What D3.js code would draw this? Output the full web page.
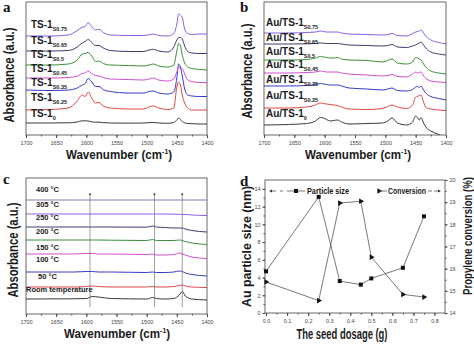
<!DOCTYPE html>
<html>
<head>
<meta charset="utf-8">
<script src="https://cdn.jsdelivr.net/npm/d3@7/dist/d3.min.js"></script>
<style>
  body { margin: 0; background: #fff; }
  svg { display: block; font-family: "Liberation Sans", Arial, sans-serif; }
  .tick text { font-size: 5.5px; fill: #444; }
  .title { font-weight: bold; fill: #1a1a1a; }
</style>
</head>
<body>
<svg id="chart" width="474" height="345"></svg>
<script>
// wavenumber grid (cm-1) used for panels a and b
const waveAB = [1700, 1660, 1630, 1615, 1607, 1602, 1597, 1591, 1585, 1579, 1572, 1560, 1530, 1505,
                1496, 1489, 1480, 1465, 1455, 1450, 1447, 1444, 1441, 1437, 1432, 1425, 1412, 1400];

// panel a: TS-1 samples, profile above own baseline (a.u.)
const seedsA = ['0', '0.25', '0.35', '0.45', '0.5', '0.65', '0.75'];
const offsetsA = [1.2, 2.5, 4.5, 5.7, 7.0, 8.4, 9.9];
const specA0    = [0, 0, 0.02, 0.1, 0.22, 0.22, 0.2, 0.12, 0.08, 0.08, 0.03, 0, -0.02, 0, 0.03, 0.05, 0, -0.03, 0.05, 0.3, 0.5, 0.35, 0.15, 0.02, -0.05, -0.07, -0.1, -0.1];
const specA025  = [0, 0.05, 0.2, 0.9, 1.5, 1.35, 1.8, 1.2, 0.7, 0.75, 0.4, 0.2, 0.1, 0.1, 0.3, 0.4, 0.2, 0.05, 0.2, 2.3, 2.8, 2.5, 1.5, 0.7, 0.2, 0, 0, 0];
const specA035  = [0, -0.05, 0, 0.2, 0.5, 0.65, 1.15, 0.8, 0.35, 0.35, 0.05, -0.15, -0.3, -0.3, -0.15, -0.1, -0.3, -0.4, -0.2, 1.2, 2.6, 2.3, 1.4, 0.1, -0.5, -0.6, -0.65, -0.65];
const specA045  = [0, 0, 0.05, 0.2, 0.45, 0.5, 0.7, 0.45, 0.25, 0.2, 0.05, -0.1, -0.15, -0.2, -0.1, 0, -0.2, -0.3, -0.1, 0.6, 1.1, 1.0, 0.95, 0.4, -0.2, -0.35, -0.45, -0.47];
const specA05   = [0, 0, 0.1, 0.5, 1.1, 1.15, 1.25, 0.9, 0.35, 0.4, 0.15, 0, -0.05, -0.1, 0, 0.1, -0.1, -0.2, 0, 1.4, 2.15, 1.9, 1.0, 0.2, -0.2, -0.35, -0.45, -0.5];
const specA065  = [0, 0, 0.05, 0.4, 0.8, 0.95, 1.15, 0.85, 0.55, 0.55, 0.3, 0.05, -0.05, -0.05, 0.1, 0.17, 0, -0.1, 0.4, 1.1, 1.35, 1.35, 1.2, 0.5, -0.05, -0.2, -0.25, -0.25];
const specA075  = [0, 0, 0.1, 0.55, 0.87, 0.95, 1.33, 0.95, 0.6, 0.67, 0.35, 0.1, 0.05, 0.05, 0.12, 0.2, 0.05, 0, 0.25, 1.2, 2.2, 2.1, 1.85, 0.7, 0.25, 0.15, 0.2, 0.2];

// panel b: Au/TS-1 samples
const offsetsB = [1.0, 2.7, 4.9, 6.2, 7.5, 9.1, 10.2];
const specB0    = [0, 0.05, 0.15, 0.4, 0.75, 0.7, 0.55, 0.4, 0.45, 0.5, 0.3, 0.1, 0.15, 0.2, 0.4, 0.7, 0.2, 0, 0.3, 0.9, 0.75, 0.5, 0.75, 0.2, -0.3, -0.6, -0.95, -1.3];
const specB025  = [0, 0, 0.1, 0.3, 0.5, 0.45, 0.4, 0.35, 0.3, 0.25, 0.1, -0.1, -0.15, -0.05, 0.15, 0.3, 0.1, -0.05, 0.3, 1.1, 1.15, 1.25, 1.3, 0.6, 0, -0.1, -0.2, -0.25];
const specB035  = [0, 0, 0.05, 0.15, 0.25, 0.2, 0.15, 0.1, 0.1, 0.1, 0, -0.2, -0.3, -0.4, -0.3, -0.2, -0.45, -0.5, -0.35, -0.1, -0.05, -0.15, 0, -0.4, -0.8, -1.05, -1.25, -1.4];
const specB045  = [0, 0, 0.05, 0.1, 0.2, 0.15, 0.1, 0.1, 0.1, 0.1, 0, -0.1, -0.2, -0.3, -0.25, -0.15, -0.35, -0.4, -0.1, 0.1, 0, 0.05, 0.1, -0.3, -0.6, -0.8, -0.9, -0.95];
const specB05   = [0, 0, 0.05, 0.2, 0.35, 0.3, 0.25, 0.2, 0.2, 0.25, 0.1, 0, -0.05, -0.2, -0.05, 0.1, -0.3, -0.4, -0.2, 0.25, 0.2, 0.1, 0, -0.4, -0.8, -1.1, -1.3, -1.4];
const specB065  = [0, 0, 0.02, 0.05, 0.1, 0.08, 0.05, 0.05, 0.05, 0.05, 0, -0.1, -0.15, -0.2, -0.15, -0.05, -0.3, -0.35, -0.2, -0.1, 0, 0.1, 0.2, -0.1, -0.5, -0.8, -1.0, -1.1];
const specB075  = [0, 0, 0.05, 0.1, 0.2, 0.15, 0.1, 0.1, 0.1, 0.1, 0, -0.1, -0.15, -0.2, -0.15, -0.05, -0.25, -0.3, -0.05, 0.1, 0.15, 0.2, 0.3, 0, -0.4, -0.7, -0.95, -1.1];

// panel c: in-situ spectra at temperature
const waveC = [1700, 1620, 1600, 1590, 1580, 1560, 1500, 1490, 1484, 1470, 1455, 1446, 1441, 1436, 1425, 1400];
const tempsC = ['Room temperature', '50 °C', '100 °C', '150 °C', '200 °C', '250 °C', '305 °C', '400 °C'];
const offsetsC = [1.5, 2.7, 4.2, 6.0, 7.4, 8.7, 10.0, 11.4];
const specCrt  = [0, 0.02, 0.05, 0.25, 0.2, 0.05, 0, 0.15, 0.05, 0, 0.05, 0.4, 0.75, 0.3, 0, -0.1];
const specC50  = [0, 0, 0.05, 0.1, 0.05, 0, 0, 0.05, 0, 0, 0.05, 0.15, 0.2, 0.1, 0, -0.05];
const specC100 = [0, 0, 0.05, 0.05, 0, 0, -0.05, 0, -0.05, -0.05, 0, 0.1, 0.05, -0.1, -0.25, -0.4];
const specC150 = [0, 0, 0.05, 0.05, 0, 0, -0.05, 0, -0.1, -0.1, -0.05, 0.1, 0, -0.1, -0.3, -0.45];
const specC200 = [0, 0, 0, 0, 0, -0.02, -0.05, 0.05, -0.05, -0.05, -0.05, 0, -0.05, -0.15, -0.3, -0.45];
const specC250 = [0, 0, 0, 0, 0, 0, -0.02, 0.1, 0, -0.05, -0.1, -0.1, -0.1, -0.2, -0.35, -0.5];
const specC305 = [0, 0, 0, 0, 0, 0, 0, 0, 0, 0, -0.02, -0.03, -0.05, -0.05, -0.1, -0.15];
const specC400 = [0, 0, 0, 0, 0, 0, 0, 0, 0, 0, 0, 0, 0, 0, 0, 0];
const markerWaves = [1594, 1487, 1441];

// panel d: seed dosage
const seedDosage = [0, 0.25, 0.35, 0.45, 0.5, 0.65, 0.75];
const particleSize = [4.7, 13.1, 3.6, 3.2, 3.9, 5.1, 10.9];
const conversion = [15.4, 14.56, 18.96, 19.04, 16.52, 14.84, 14.72];

const colors7 = ['#3a3a3a', '#e04646', '#3838c8', '#d24cd2', '#3b8f3b', '#3c3c6c', '#8a60e6'];
const colors8 = ['#3a3a3a', '#e04646', '#3838c8', '#d24cd2', '#3b8f3b', '#3c3c6c', '#8a60e6', '#9078aa'];

const svg = d3.select('#chart');
const waveTicks = [1700, 1650, 1600, 1550, 1500, 1450, 1400];

function frame(g, box) {
  g.append('rect')
    .attr('x', box.left).attr('y', box.top)
    .attr('width', box.right - box.left).attr('height', box.bottom - box.top)
    .attr('fill', 'none').attr('stroke', '#444').attr('stroke-width', 0.8);
}

function waveAxis(g, x, box) {
  const ax = g.append('g').attr('transform', `translate(0,${box.bottom})`);
  ax.call(d3.axisBottom(x).tickValues(d3.range(1700, 1399, -25)).tickSize(1.5).tickFormat(''))
    .call(s => s.select('.domain').remove())
    .call(s => s.selectAll('line').attr('stroke', '#444'));
  const ax2 = g.append('g').attr('transform', `translate(0,${box.bottom})`);
  ax2.call(d3.axisBottom(x).tickValues(waveTicks).tickSize(3).tickPadding(3).tickFormat(d3.format('d')))
    .call(s => s.select('.domain').remove())
    .call(s => s.selectAll('line').attr('stroke', '#444'));
}

function titles(g, box, cx, ytx, ycy, xbase) {
  const t = g.append('text').attr('class', 'title')
    .attr('transform', `translate(${cx},${xbase}) scale(0.86,1)`)
    .attr('text-anchor', 'middle').attr('font-size', 13.5);
  t.append('tspan').text('Wavenumber (cm');
  t.append('tspan').attr('font-size', 8).attr('dy', -5).text('-1');
  t.append('tspan').attr('dy', 5).text(')');
  g.append('text').attr('class', 'title')
    .attr('transform', `translate(${ytx},${ycy}) rotate(-90)`)
    .attr('text-anchor', 'middle').attr('font-size', 14)
    .attr('textLength', 95).attr('lengthAdjust', 'spacingAndGlyphs')
    .text('Absorbance (a.u.)');
}

function spectra(g, box, x, y, waves, specs, offsets, colors, clipId) {
  g.append('clipPath').attr('id', clipId).append('rect')
    .attr('x', box.left).attr('y', box.top)
    .attr('width', box.right - box.left).attr('height', box.bottom - box.top);
  const line = d3.line()
    .x(d => x(d[0])).y(d => y(d[1]))
    .curve(d3.curveMonotoneX);
  specs.forEach((s, i) => {
    const pts = waves.map((w, j) => [w, s[j] + offsets[i]]);
    g.append('path').datum(pts)
      .attr('d', line)
      .attr('clip-path', `url(#${clipId})`)
      .attr('fill', 'none').attr('stroke', colors[i]).attr('stroke-width', 1);
  });
}

function panelLetter(g, letter, px, py) {
  g.append('text').attr('x', px).attr('y', py)
    .attr('font-family', '"Liberation Serif", "Times New Roman", serif')
    .attr('font-weight', 'bold').attr('font-size', 15).attr('fill', '#111')
    .text(letter);
}

function sampleLabel(g, base, s, lx, ly) {
  const t = g.append('text').attr('class', 'title').attr('x', lx).attr('y', ly).attr('font-size', 10);
  t.append('tspan').text(base);
  t.append('tspan').attr('font-size', 5.5).attr('dy', 2.5).text(s === '0' ? '0' : 'S' + s);
}

// ---------- panel a ----------
{
  const box = {left: 26, right: 207, top: 2, bottom: 135};
  const g = svg.append('g');
  const x = d3.scaleLinear().domain([1700, 1400]).range([box.left, box.right]);
  const y = d3.scaleLinear().domain([0, 13.3]).range([box.bottom, box.top]);
  spectra(g, box, x, y, waveAB, [specA0, specA025, specA035, specA045, specA05, specA065, specA075], offsetsA, colors7, 'clipA');
  frame(g, box);
  waveAxis(g, x, box);
  const labelY = [117, 101, 86, 72, 58, 44, 28];
  seedsA.forEach((s, i) => sampleLabel(g, 'TS-1', s, 31, labelY[i]));
  titles(g, box, 119, 14, 75, 159);
  panelLetter(g, 'a', 3, 12);
}

// ---------- panel b ----------
{
  const box = {left: 264, right: 446, top: 2, bottom: 135};
  const g = svg.append('g');
  const x = d3.scaleLinear().domain([1700, 1400]).range([box.left, box.right]);
  const y = d3.scaleLinear().domain([0, 13.3]).range([box.bottom, box.top]);
  spectra(g, box, x, y, waveAB, [specB0, specB025, specB035, specB045, specB05, specB065, specB075], offsetsB, colors7, 'clipB');
  frame(g, box);
  waveAxis(g, x, box);
  const labelY = [117, 99, 83, 68, 55, 41, 26];
  seedsA.forEach((s, i) => sampleLabel(g, 'Au/TS-1', s, 266, labelY[i]));
  titles(g, box, 358, 252, 71, 159);
  panelLetter(g, 'b', 240, 12);
}

// ---------- panel c ----------
{
  const box = {left: 26, right: 207, top: 178, bottom: 314};
  const g = svg.append('g');
  const x = d3.scaleLinear().domain([1700, 1400]).range([box.left, box.right]);
  const y = d3.scaleLinear().domain([0, 13.6]).range([box.bottom, box.top]);
  spectra(g, box, x, y, waveC, [specCrt, specC50, specC100, specC150, specC200, specC250, specC305, specC400], offsetsC, colors8, 'clipC');
  // peak marker lines with arrows
  g.append('defs').append('marker').attr('id', 'arrowUp')
    .attr('viewBox', '0 0 6 6').attr('refX', 3).attr('refY', 3)
    .attr('markerWidth', 4).attr('markerHeight', 4).attr('orient', 'auto')
    .append('path').attr('d', 'M0,0 L6,3 L0,6 Z').attr('fill', '#333');
  g.selectAll('.vmark').data(markerWaves).enter().append('line')
    .attr('x1', d => x(d)).attr('x2', d => x(d))
    .attr('y1', y(0.7)).attr('y2', y(12.0))
    .attr('stroke', '#777').attr('stroke-width', 0.7)
    .attr('marker-end', 'url(#arrowUp)');
  frame(g, box);
  waveAxis(g, x, box);
  const labelY = [292, 279, 262, 250, 234, 220, 207, 192];
  tempsC.forEach((s, i) => {
    g.append('text').attr('class', 'title')
      .attr('x', i === 0 ? 26 : (i === 1 ? 38 : 36)).attr('y', labelY[i])
      .attr('font-size', 7.5).text(s);
  });
  titles(g, box, 117, 18, 250, 338);
  panelLetter(g, 'c', 3, 184);
}

// ---------- panel d ----------
{
  const box = {left: 265, right: 445, top: 180, bottom: 313};
  const g = svg.append('g');
  const x = d3.scaleLinear().domain([-0.005, 0.85]).range([box.left, box.right]);
  const yL = d3.scaleLinear().domain([0, 15]).range([box.bottom, box.top]);
  const yR = d3.scaleLinear().domain([14, 20]).range([box.bottom, box.top]);
  frame(g, box);

  const minor = (axis) => axis.tickSize(1.5).tickFormat('');
  const styleAxis = s => { s.select('.domain').remove(); s.selectAll('line').attr('stroke', '#444'); };
  g.append('g').attr('transform', `translate(0,${box.bottom})`)
    .call(minor(d3.axisBottom(x).tickValues(d3.range(0, 0.851, 0.05)))).call(styleAxis);
  g.append('g').attr('transform', `translate(0,${box.bottom})`)
    .call(d3.axisBottom(x).tickValues(d3.range(0, 0.81, 0.1)).tickSize(3).tickPadding(3).tickFormat(d3.format('.1f'))).call(styleAxis);
  g.append('g').attr('transform', `translate(${box.left},0)`)
    .call(minor(d3.axisLeft(yL).tickValues(d3.range(0, 15, 1)))).call(styleAxis);
  g.append('g').attr('transform', `translate(${box.left},0)`)
    .call(d3.axisLeft(yL).tickValues(d3.range(0, 15, 2)).tickSize(2.5).tickPadding(2).tickFormat(d3.format('d'))).call(styleAxis);
  g.append('g').attr('transform', `translate(${box.right},0)`)
    .call(minor(d3.axisRight(yR).tickValues(d3.range(14, 20.01, 0.5)))).call(styleAxis);
  g.append('g').attr('transform', `translate(${box.right},0)`)
    .call(d3.axisRight(yR).tickValues(d3.range(14, 20.01, 1)).tickSize(2.5).tickPadding(2).tickFormat(d3.format('d'))).call(styleAxis);

  const lineL = d3.line().x((d, i) => x(seedDosage[i])).y(d => yL(d));
  const lineR = d3.line().x((d, i) => x(seedDosage[i])).y(d => yR(d));
  g.append('path').datum(particleSize).attr('d', lineL)
    .attr('fill', 'none').attr('stroke', '#555').attr('stroke-width', 0.8);
  g.append('path').datum(conversion).attr('d', lineR)
    .attr('fill', 'none').attr('stroke', '#555').attr('stroke-width', 0.8);
  g.selectAll('.sq').data(particleSize).enter().append('rect')
    .attr('x', (d, i) => x(seedDosage[i]) - 2).attr('y', d => yL(d) - 2)
    .attr('width', 4).attr('height', 4).attr('fill', '#111');
  const tri = d3.symbol().type(d3.symbolTriangle).size(14);
  g.selectAll('.tri').data(conversion).enter().append('path')
    .attr('d', tri)
    .attr('transform', (d, i) => `translate(${x(seedDosage[i])},${yR(d)}) rotate(90)`)
    .attr('fill', '#111');

  // legend
  const ly = 191;
  const seg = (x1, x2) => g.append('line').attr('x1', x1).attr('x2', x2).attr('y1', ly).attr('y2', ly)
    .attr('stroke', '#555').attr('stroke-width', 0.8);
  g.append('path').attr('d', `M${269},${ly} l3,-1.5 l0,3 z`).attr('fill', '#333');
  seg(272, 276); seg(280, 283); seg(287, 305);
  g.append('rect').attr('x', 294).attr('y', ly - 2).attr('width', 4).attr('height', 4).attr('fill', '#111');
  g.append('text').attr('class', 'title').attr('x', 307).attr('y', ly + 3).attr('font-size', 8.5)
    .attr('textLength', 42).attr('lengthAdjust', 'spacingAndGlyphs').text('Particle size');
  g.append('path').attr('d', tri).attr('transform', `translate(379,${ly}) rotate(90)`).attr('fill', '#111');
  seg(379, 387);
  g.append('text').attr('class', 'title').attr('x', 388).attr('y', ly + 3).attr('font-size', 8.5)
    .attr('textLength', 38).attr('lengthAdjust', 'spacingAndGlyphs').text('Conversion');
  seg(428, 432); seg(434, 438);
  g.append('path').attr('d', `M${441},${ly} l-3,-1.5 l0,3 z`).attr('fill', '#333');

  g.append('text').attr('class', 'title')
    .attr('transform', `translate(251,${(box.top + box.bottom) / 2}) rotate(-90)`)
    .attr('text-anchor', 'middle').attr('font-size', 13)
    .attr('textLength', 121).attr('lengthAdjust', 'spacingAndGlyphs')
    .text('Au particle size (nm)');
  g.append('text').attr('class', 'title')
    .attr('transform', `translate(472,236) rotate(-90)`)
    .attr('text-anchor', 'middle').attr('font-size', 13)
    .attr('textLength', 118).attr('lengthAdjust', 'spacingAndGlyphs')
    .text('Propylene conversion (%)');
  g.append('text').attr('class', 'title')
    .attr('x', 342).attr('y', 339).attr('text-anchor', 'middle').attr('font-size', 14)
    .attr('textLength', 91).attr('lengthAdjust', 'spacingAndGlyphs')
    .text('The  seed dosage (g)');
  panelLetter(g, 'd', 240, 186);
}
</script>
</body>
</html>
